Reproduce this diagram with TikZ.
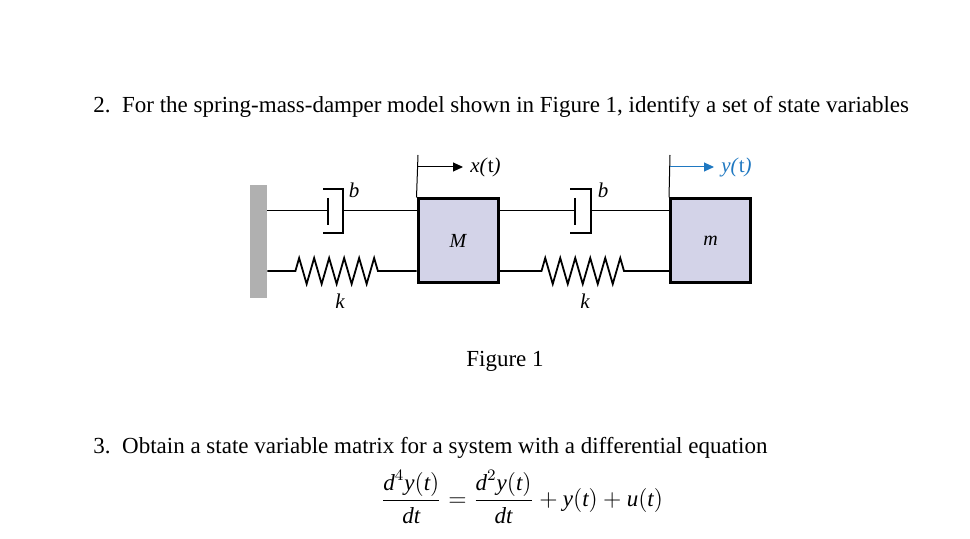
\documentclass[tikz,border=0pt]{standalone}
\usepackage{fontspec}
\setmainfont{Liberation Serif}
\usepackage{amsmath}
\usetikzlibrary{decorations.pathmorphing,arrows.meta}
\begin{document}
\begin{tikzpicture}[x=0.5pt,y=-0.5pt,
  txt/.style={font=\fontsize{11.5}{13}\selectfont,inner sep=0},
  mass/.style={draw,line width=1.5pt,fill=massfill,minimum width=40pt,minimum height=42pt,inner sep=0,font=\fontsize{10}{12}\selectfont\itshape},
  thin/.style={line width=0.5pt},
  spring/.style={line width=0.9pt,decorate,decoration={zigzag,segment length=7.5pt,amplitude=6.5pt}},
  cup/.style={line width=1.1pt},
  lab/.style={font=\fontsize{10.5}{12}\selectfont\itshape,inner sep=0}]
\definecolor{massfill}{HTML}{D3D3E8}
\definecolor{wallgray}{HTML}{B0B0B0}
\definecolor{yblue}{HTML}{1F78C1}
\useasboundingbox (0,0) rectangle (970,539);
\node[txt,anchor=west] (q2) at (93,107) {2.\ \ For the spring-mass-damper model shown in Figure 1, identify a set of state variables};
\node[fill=wallgray,minimum width=8.5pt,minimum height=56.5pt,inner sep=0] (wall) at (258.5,241.5) {};
\node[mass] (M) at (458,241) {M};
\node[mass] (m) at (710.5,241) {m};
% damper 1
\coordinate (p1) at (328,211);
\draw[thin] (wall.east|-p1) -- (p1);
\draw[cup] (328,198) -- (328,225);
\draw[cup] (323,189) -- (343,189) -- (343,233) -- (323,233);
\draw[thin] (343,211) -- (M.west|-p1);
\node[lab] (b1) at (354,190) {b};
% spring 1
\coordinate (s1) at (0,271);
\draw[spring,decoration={pre length=14pt,post length=16.5pt}] (wall.east|-s1) -- (M.west|-s1);
\node[lab] (k1) at (340,301) {k};
% damper 2
\coordinate (p2) at (575,211);
\draw[thin] (M.east|-p2) -- (p2);
\draw[cup] (575,198) -- (575,225);
\draw[cup] (570,189) -- (591,189) -- (591,233) -- (570,233);
\draw[thin] (591,211) -- (m.west|-p2);
\node[lab] (b2) at (603,190) {b};
% spring 2
\draw[spring,decoration={pre length=21pt,post length=21pt}] (M.east|-s1) -- (m.west|-s1);
\node[lab] (k2) at (585,301) {k};
% x(t)
\coordinate (xt0) at (418,155);
\coordinate (xa) at (418,167);
\coordinate (xe) at (463,167);
\draw[thin] (xt0) -- (M.north west);
\node[lab,anchor=west] (xl) at (470,167) {x(\textup{t})};
\draw[thin,-{Triangle[length=5pt,width=4.5pt]}] (xa) -- (xe);
% y(t)
\coordinate (yt0) at (670,155);
\coordinate (ya) at (670,167);
\coordinate (ye) at (714,167);
\draw[thin] (yt0) -- (m.north west);
\node[lab,anchor=west,text=yblue] (yl) at (721,167) {y(\textup{t})};
\draw[thin,yblue,-{Triangle[length=5pt,width=4.5pt]}] (ya) -- (ye);
\node[txt] (fig) at (505,361) {Figure 1};
\node[txt,anchor=west] (q3) at (93,448) {3.\ \ Obtain a state variable matrix for a system with a differential equation};
\node[txt] (eq) at (522,497) {$\dfrac{\textit{d}^4\textit{y}(\textit{t})}{\textit{dt}}=\dfrac{\textit{d}^2\textit{y}(\textit{t})}{\textit{dt}}+\textit{y}(\textit{t})+\textit{u}(\textit{t})$};
\end{tikzpicture}
\end{document}
